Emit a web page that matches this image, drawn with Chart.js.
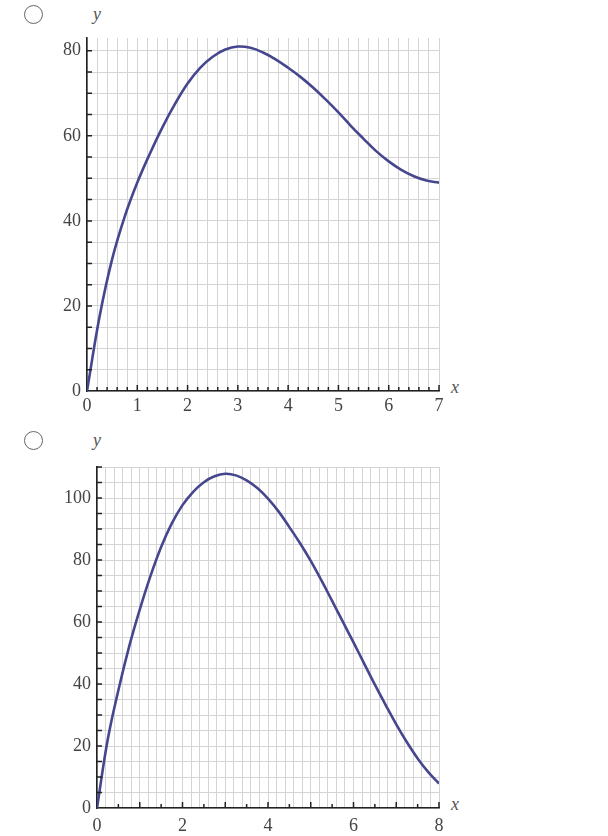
<!DOCTYPE html>
<html>
<head>
<meta charset="utf-8">
<script src="https://cdn.jsdelivr.net/npm/chart.js@4.4.1/dist/chart.umd.min.js"></script>
<style>
    body { margin: 0; background: #fff; width: 608px; height: 836px; overflow: hidden; position: relative; }
    canvas { position: absolute; left: 0; }
    .radio { position: absolute; width: 19px; height: 19px; border: 1.8px solid #666; border-radius: 50%; box-sizing: border-box; }
    .lbl { position: absolute; font-family: 'Liberation Serif', serif; font-style: italic; font-size: 18px; color: #555; }
</style>
</head>
<body>
<div class="radio" style="left:24px; top:5px;"></div>
<div class="radio" style="left:24px; top:431px;"></div>
<span class="lbl" style="left:93px; top:4px;">y</span>
<span class="lbl" style="left:451px; top:377px;">x</span>
<span class="lbl" style="left:93px; top:430px;">y</span>
<span class="lbl" style="left:451px; top:794px;">x</span>

<canvas id="chartTop" width="608" height="425" style="top:0;"></canvas>
<canvas id="chartBottom" width="608" height="411" style="top:425px;"></canvas>

<script>
// top curve (every 0.25)
var topX = [0, 0.25, 0.5, 0.75, 1, 1.25, 1.5, 1.75, 2, 2.25, 2.5, 2.75, 3, 3.25, 3.5, 3.75, 4,
            4.25, 4.5, 4.75, 5, 5.25, 5.5, 5.75, 6, 6.25, 6.5, 6.75, 7];
var topY = [0, 17.5, 31, 41, 49, 55.8, 62, 67.5, 72.3, 76, 78.6, 80.3, 81, 80.7, 79.6, 78, 76,
            73.8, 71.3, 68.5, 65.5, 62.3, 59.3, 56.4, 54, 52, 50.5, 49.5, 49];
var topXLabels = [0, 1, 2, 3, 4, 5, 6, 7];
var topYLabels = [0, 20, 40, 60, 80];

// bottom curve
var botX = [0, 0.25, 0.5, 0.75, 1, 1.25, 1.5, 1.75, 2, 2.25, 2.5, 2.75, 3, 3.25, 3.5, 3.75, 4,
            4.25, 4.5, 4.75, 5, 5.25, 5.5, 5.75, 6, 6.25, 6.5, 6.75, 7, 7.25, 7.5, 7.75, 8];
var botY = [0, 22, 38, 52, 64, 74.8, 84.2, 91.8, 97.7, 102, 105.1, 107, 107.8, 107.3, 105.7, 103.2, 99.8,
            95.6, 90.6, 85.4, 79.7, 73.4, 66.8, 60.1, 53.4, 46.6, 39.8, 33.3, 27, 21.2, 16, 11.6, 7.9];
var botXLabels = [0, 2, 4, 6, 8];
var botYLabels = [0, 20, 40, 60, 80, 100];

var lineColor = '#46468f';
var gridColor = '#d4d4d4';
var tickFont = { family: 'Liberation Serif', size: 18 };

function toPoints(xs, ys) {
    var pts = [];
    for (var i = 0; i < xs.length; i++) {
        pts.push({ x: xs[i], y: ys[i] });
    }
    return pts;
}

function isIn(v, list) {
    for (var i = 0; i < list.length; i++) {
        if (Math.abs(v - list[i]) < 1e-6) return true;
    }
    return false;
}

// small inward tick marks like the original plot
var innerTicks = {
    id: 'innerTicks',
    afterDraw: function (chart, args, opts) {
        var ctx = chart.ctx;
        var xs = chart.scales.x, ys = chart.scales.y;
        var x0 = xs.getPixelForValue(0), y0 = ys.getPixelForValue(0);
        ctx.save();
        ctx.strokeStyle = '#222';
        ctx.lineWidth = 1.5;
        ctx.beginPath();
        for (var v = opts.xStep; v <= xs.max + 1e-6; v += opts.xStep) {
            var px = xs.getPixelForValue(v);
            var len = Math.abs(v - Math.round(v)) < 1e-6 ? 6 : 4;
            ctx.moveTo(px, y0);
            ctx.lineTo(px, y0 - len);
        }
        for (var w = 5; w <= ys.max + 1e-6; w += 5) {
            var py = ys.getPixelForValue(w);
            ctx.moveTo(x0, py);
            ctx.lineTo(x0 + 5, py);
        }
        ctx.stroke();
        ctx.restore();
    }
};

function makeChart(id, xs, ys, xLabels, yLabels, xMax, yMax, yWidth, xHeight, padTop, xPad, xTickStep) {
    var ctx = document.getElementById(id).getContext('2d');
    return new Chart(ctx, {
        type: 'line',
        data: {
            datasets: [{
                data: toPoints(xs, ys),
                borderColor: lineColor,
                borderWidth: 2.6,
                pointRadius: 0,
                fill: false,
                tension: 0.4
            }]
        },
        options: {
            responsive: false,
            animation: false,
            layout: { padding: { left: 0, top: padTop, right: 608 - 439, bottom: 0 } },
            plugins: {
                legend: { display: false },
                tooltip: { enabled: false },
                innerTicks: { xStep: xTickStep }
            },
            scales: {
                x: {
                    type: 'linear',
                    min: 0,
                    max: xMax,
                    afterFit: function (scale) { scale.height = xHeight; },
                    grid: { color: gridColor, lineWidth: 1, drawTicks: false },
                    border: { display: true, color: '#222', width: 1.6 },
                    ticks: {
                        stepSize: 0.2,
                        autoSkip: false,
                        maxRotation: 0,
                        padding: xPad,
                        color: '#444',
                        font: tickFont,
                        callback: function (v) { return isIn(v, xLabels) ? String(Math.round(v)) : ''; }
                    }
                },
                y: {
                    min: 0,
                    max: yMax,
                    afterFit: function (scale) { scale.width = yWidth; },
                    grid: { color: gridColor, lineWidth: 1, drawTicks: false },
                    border: { display: true, color: '#222', width: 1.6 },
                    ticks: {
                        stepSize: 5,
                        includeBounds: false,
                        autoSkip: false,
                        padding: 6,
                        color: '#444',
                        font: tickFont,
                        callback: function (v) { return isIn(v, yLabels) ? String(Math.round(v)) : ''; }
                    }
                }
            }
        },
        plugins: [innerTicks]
    });
}

makeChart('chartTop', topX, topY, topXLabels, topYLabels, 7, 83, 87, 425 - 391, 38, 4, 0.2);
makeChart('chartBottom', botX, botY, botXLabels, botYLabels, 8, 110, 97, 411 - 383, 467 - 425, 7, 0.5);
</script>
</body>
</html>
